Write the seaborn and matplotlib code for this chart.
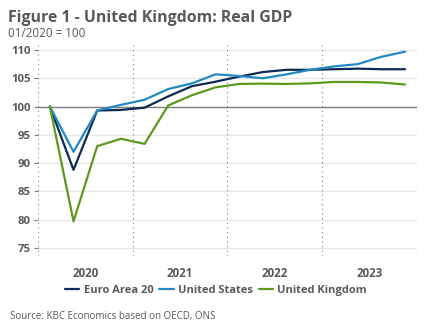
import matplotlib
matplotlib.use("Agg")
import matplotlib.pyplot as plt
import seaborn as sns
import pandas as pd
import numpy as np

quarters = ["2020Q1", "2020Q2", "2020Q3", "2020Q4",
            "2021Q1", "2021Q2", "2021Q3", "2021Q4",
            "2022Q1", "2022Q2", "2022Q3", "2022Q4",
            "2023Q1", "2023Q2", "2023Q3", "2023Q4"]
euro_area = [100.0, 88.8, 99.3, 99.4, 99.8, 101.8, 103.6, 104.4,
             105.3, 106.1, 106.5, 106.5, 106.6, 106.7, 106.6, 106.6]
united_states = [100.0, 92.0, 99.3, 100.3, 101.2, 103.1, 104.1, 105.7,
                 105.4, 105.0, 105.7, 106.5, 107.1, 107.5, 108.8, 109.7]
united_kingdom = [100.0, 79.7, 93.0, 94.3, 93.4, 100.2, 102.0, 103.4,
                  104.0, 104.05, 104.0, 104.1, 104.35, 104.35, 104.25, 103.9]
series_names = ["Euro Area 20", "United States", "United Kingdom"]
year_labels = ["2020", "2021", "2022", "2023"]
y_ticks = [75, 80, 85, 90, 95, 100, 105, 110]

colors = ["#0d2b55", "#2189c2", "#5a9a1c"]
grey = "#595959"

df = pd.DataFrame({
    "idx": list(range(len(quarters))) * 3,
    "value": euro_area + united_states + united_kingdom,
    "series": sum([[n] * len(quarters) for n in series_names], []),
})

sns.set_theme(style="white")
plt.rcParams["font.family"] = ["Open Sans", "DejaVu Sans"]

fig = plt.figure(figsize=(4.32, 3.34), dpi=100)
ax = fig.add_axes([0.088, 0.234, 0.877, 0.640])

for v in y_ticks:
    if v != 100:
        ax.axhline(v, color="#e6e6e6", lw=0.9, zorder=0)
ax.axhline(100, color="#7f7f7f", lw=1.0, zorder=1)
for b in [-0.5, 3.5, 7.5, 11.5, 15.5]:
    ax.axvline(b, color="#808080", lw=0.8, ls=(0, (1, 3.2)), zorder=1)

sns.lineplot(data=df, x="idx", y="value", hue="series", hue_order=series_names,
             palette=colors, lw=1.6, ax=ax, zorder=3)

ax.set_xlim(-0.5, 15.5)
ax.set_ylim(73.6, 111.4)
ax.set_yticks(y_ticks)
ax.set_yticklabels([str(v) for v in y_ticks], fontweight="bold", color=grey, fontsize=8.2)
ax.set_xticks([1.5, 5.5, 9.5, 13.5])
ax.set_xticklabels(year_labels, fontweight="bold", color=grey, fontsize=8.3)
ax.set_xticks([-0.5, 3.5, 7.5, 11.5, 15.5], minor=True)
ax.tick_params(axis="x", which="major", length=0, pad=8)
ax.tick_params(axis="x", which="minor", length=4, width=0.8, color="#7f7f7f", direction="out")
ax.tick_params(axis="y", length=3, width=0.8, color="#7f7f7f", direction="out", pad=2, left=True)
ax.set_xlabel("")
ax.set_ylabel("")
for s in ax.spines.values():
    s.set_visible(False)

handles, labels = ax.get_legend_handles_labels()
ax.get_legend().remove()
fig.legend(handles, labels, loc="center", bbox_to_anchor=(0.5, 0.131),
           ncol=3, frameon=False, handlelength=1.3, handletextpad=0.4,
           columnspacing=0.5, prop={"weight": "bold", "size": 8.0},
           labelcolor=grey, borderaxespad=0)

fig.text(0.019, 0.935, "Figure 1 - United Kingdom: Real GDP", fontsize=11.4,
         fontweight="bold", color=grey, va="baseline")
fig.text(0.019, 0.888, "01/2020 = 100", fontsize=8.4, color=grey, va="baseline")
fig.text(0.023, 0.045, "Source: KBC Economics based on OECD, ONS", fontsize=7.0,
         color=grey, va="baseline")

fig.savefig("out.png", dpi=100)
